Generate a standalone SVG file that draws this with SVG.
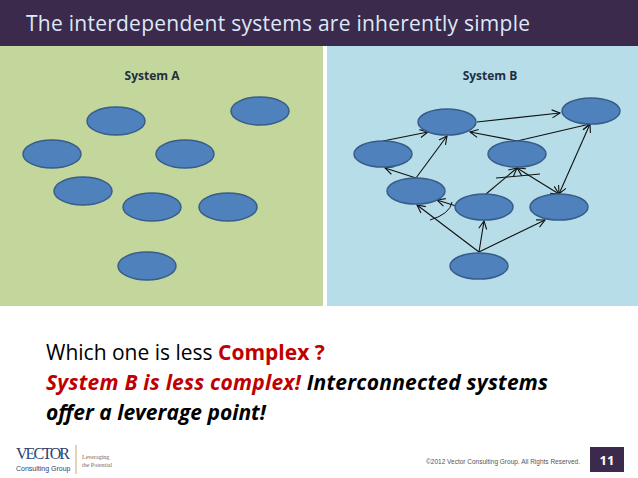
<svg xmlns="http://www.w3.org/2000/svg" width="638" height="478" viewBox="0 0 638 478">
<style>
.n{fill:#4f81bd;stroke:#385d8a;stroke-width:1.5}
.e{stroke:#111;stroke-width:1.1;fill:none;marker-end:url(#a)}
.d{marker-start:url(#b)}
.lb{font-family:"Open Sans","Liberation Sans",sans-serif;font-weight:bold;font-size:12px;fill:#1f2f3f}
.t{font-family:"Open Sans","Liberation Sans",sans-serif;font-size:21px}
</style>
<defs>
<marker id="a" markerWidth="10" markerHeight="10" refX="9" refY="5" orient="auto" markerUnits="userSpaceOnUse"><path d="M1,1 L9,5 L1,9" fill="none" stroke="#111" stroke-width="1.1"/></marker>
<marker id="b" markerWidth="10" markerHeight="10" refX="1" refY="5" orient="auto" markerUnits="userSpaceOnUse"><path d="M9,1 L1,5 L9,9" fill="none" stroke="#111" stroke-width="1.1"/></marker>
</defs>
<rect width="638" height="478" fill="#fff"/>
<rect width="638" height="46" fill="#3b2a4b"/>
<text x="26" y="31" font-family="Open Sans,Liberation Sans,sans-serif" font-size="21" fill="#dde8f8" textLength="504">The interdependent systems are inherently simple</text>
<rect x="0" y="46" width="323" height="260" fill="#c3d69b"/>
<rect x="327" y="46" width="311" height="260" fill="#b7dee8"/>
<line x1="325" y1="46" x2="325" y2="306" stroke="#fff" stroke-width="3" stroke-dasharray="14,6"/>
<text class="lb" x="152" y="80" text-anchor="middle">System A</text>
<text class="lb" x="490" y="80" text-anchor="middle">System B</text>
<g id="A">
<ellipse id="a1" class="n" cx="116" cy="121" rx="29" ry="14"/>
<ellipse id="a2" class="n" cx="260" cy="111" rx="29" ry="14"/>
<ellipse id="a3" class="n" cx="52" cy="154" rx="29" ry="14"/>
<ellipse id="a4" class="n" cx="185" cy="154" rx="29" ry="14"/>
<ellipse id="a5" class="n" cx="83" cy="191" rx="29" ry="14"/>
<ellipse id="a6" class="n" cx="152" cy="207" rx="29" ry="14"/>
<ellipse id="a7" class="n" cx="228" cy="207" rx="29" ry="14"/>
<ellipse id="a8" class="n" cx="147" cy="266" rx="29" ry="14"/>
</g>
<g id="connectors">
<line class="e" x1="477" y1="122" x2="560" y2="113"/>
<line class="e" x1="383" y1="141" x2="428" y2="132"/>
<line class="e" x1="416" y1="178" x2="447" y2="136"/>
<line class="e" x1="416" y1="178" x2="385" y2="168"/>
<line class="e" x1="517" y1="141" x2="470" y2="132"/>
<line class="e" x1="517" y1="141" x2="590" y2="124"/>
<line class="e d" x1="590" y1="124" x2="559" y2="194"/>
<line class="e" x1="486" y1="194" x2="517" y2="168"/>
<line class="e d" x1="517" y1="168" x2="559" y2="194"/>
<line class="e" x1="456" y1="206" x2="437" y2="200"/>
<line class="e" x1="479" y1="252" x2="417" y2="205"/>
<line class="e" x1="479" y1="252" x2="484" y2="221"/>
<line class="e" x1="479" y1="252" x2="545" y2="220"/>
<path d="M496,178 Q520,176 540,174" stroke="#111" fill="none" stroke-width="1"/>
<path d="M430,220 Q450,214 452,202" stroke="#111" fill="none" stroke-width="1"/>
</g>
<g id="B">
<ellipse id="b1" class="n" cx="447" cy="122" rx="29" ry="13"/>
<ellipse id="b2" class="n" cx="591" cy="111" rx="29" ry="13"/>
<ellipse id="b3" class="n" cx="383" cy="154" rx="29" ry="13"/>
<ellipse id="b4" class="n" cx="517" cy="154" rx="29" ry="13"/>
<ellipse id="b5" class="n" cx="416" cy="191" rx="29" ry="13"/>
<ellipse id="b6" class="n" cx="484" cy="207" rx="29" ry="13"/>
<ellipse id="b7" class="n" cx="559" cy="207" rx="29" ry="13"/>
<ellipse id="b8" class="n" cx="479" cy="266" rx="29" ry="13"/>
</g>
<text class="t" x="46" y="360" fill="#000">Which one is less <tspan fill="#c00000" font-weight="bold">Complex ?</tspan></text>
<text class="t" x="46" y="390" font-weight="bold" font-style="italic" textLength="502"><tspan fill="#c00000">System B is less complex!</tspan><tspan fill="#000"> Interconnected systems</tspan></text>
<text class="t" x="46" y="420" font-weight="bold" font-style="italic" fill="#000">offer a leverage point!</text>
<g id="footer">
<text x="16" y="459" font-family="Liberation Serif,serif" font-size="16" fill="#2f3f6f" textLength="54">VECTOR</text>
<text x="16" y="471" font-family="Liberation Sans,sans-serif" font-size="7" fill="#2f3f6f">Consulting Group</text>
<line x1="76" y1="445" x2="76" y2="474" stroke="#c9a96e"/>
<text x="82" y="459" font-family="Liberation Serif,serif" font-size="6" fill="#7a6a5a">Leveraging</text>
<text x="82" y="467" font-family="Liberation Serif,serif" font-size="6" fill="#7a6a5a">the Potential</text>
<text x="426" y="464" font-family="Liberation Sans,sans-serif" font-size="6.5" fill="#555">©2012 Vector Consulting Group. All  Rights Reserved.</text>
<rect x="590" y="447" width="34" height="25" fill="#3b2a4b"/>
<text x="607" y="465" text-anchor="middle" font-family="Open Sans,Liberation Sans,sans-serif" font-weight="bold" font-size="13" fill="#fff">11</text>
</g>
</svg>
